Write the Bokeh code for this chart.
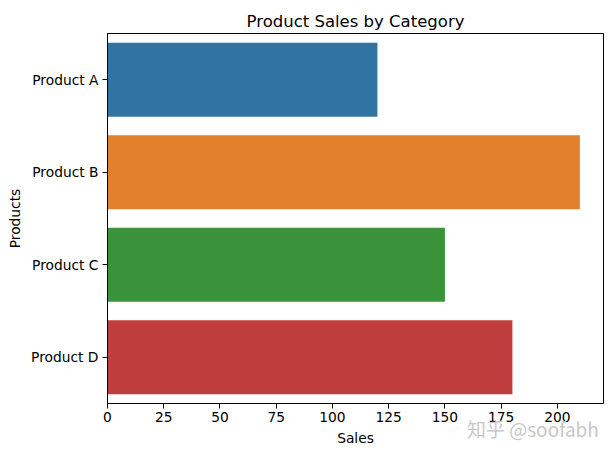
from bokeh.plotting import figure
from bokeh.models import FactorRange, Range1d, FixedTicker, ColumnDataSource, Div
from bokeh.layouts import column
from bokeh.embed import file_html
from bokeh.resources import INLINE

products = ["Product A", "Product B", "Product C", "Product D"]
sales = [120, 210, 150, 180]
colors = ["#3274a1", "#e1812c", "#3a923a", "#c03d3e"]
x_ticks = [0, 25, 50, 75, 100, 125, 150, 175, 200]
watermark = "知乎 @soofabh"

src = ColumnDataSource(dict(product=products, sales=sales, color=colors))

p = figure(
    width=613, height=455,
    y_range=FactorRange(factors=list(reversed(products)), range_padding=0),
    x_range=Range1d(0, max(sales) * 1.05),
    output_backend="svg", toolbar_location=None,
    title="Product Sales by Category",
    min_border_left=107, min_border_right=10, min_border_top=33, min_border_bottom=52,
)
p.hbar(y="product", right="sales", left=0, height=0.8, color="color", source=src, line_color=None)

p.title.align = "center"
p.title.text_font = "DejaVu Sans"
p.title.text_font_size = "16.5px"
p.title.text_font_style = "normal"
p.title.text_color = "black"
p.title.offset = 0
p.title.standoff = 5

p.xgrid.visible = False
p.ygrid.visible = False
p.outline_line_color = "black"
p.outline_line_width = 1
p.outline_line_alpha = 1

p.xaxis.ticker = FixedTicker(ticks=x_ticks)
p.xaxis.axis_label = "Sales"
p.yaxis.axis_label = "Products"
for ax in (p.xaxis[0], p.yaxis[0]):
    ax.axis_label_text_font = "DejaVu Sans"
    ax.axis_label_text_font_size = "13.8px"
    ax.axis_label_text_font_style = "normal"
    ax.axis_label_text_color = "black"
    ax.major_label_text_font = "DejaVu Sans"
    ax.major_label_text_font_size = "13.8px"
    ax.major_label_text_color = "black"
    ax.axis_line_color = "black"
    ax.major_tick_line_color = "black"
    ax.major_tick_out = 5
    ax.major_tick_in = 0
    ax.minor_tick_line_color = None
    ax.axis_label_standoff = 5
p.xaxis.major_label_standoff = 3
p.yaxis.major_label_standoff = 4

wm = Div(text=watermark, width=150, height=22, margin=(-37, 0, 0, 467),
         styles={"color": "#c8c8c8", "font-family": "Noto Sans CJK SC",
                 "font-size": "19px", "line-height": "22px", "white-space": "nowrap"})

layout = column(p, wm, spacing=0)

open("out.html", "w").write(file_html(layout, INLINE))
